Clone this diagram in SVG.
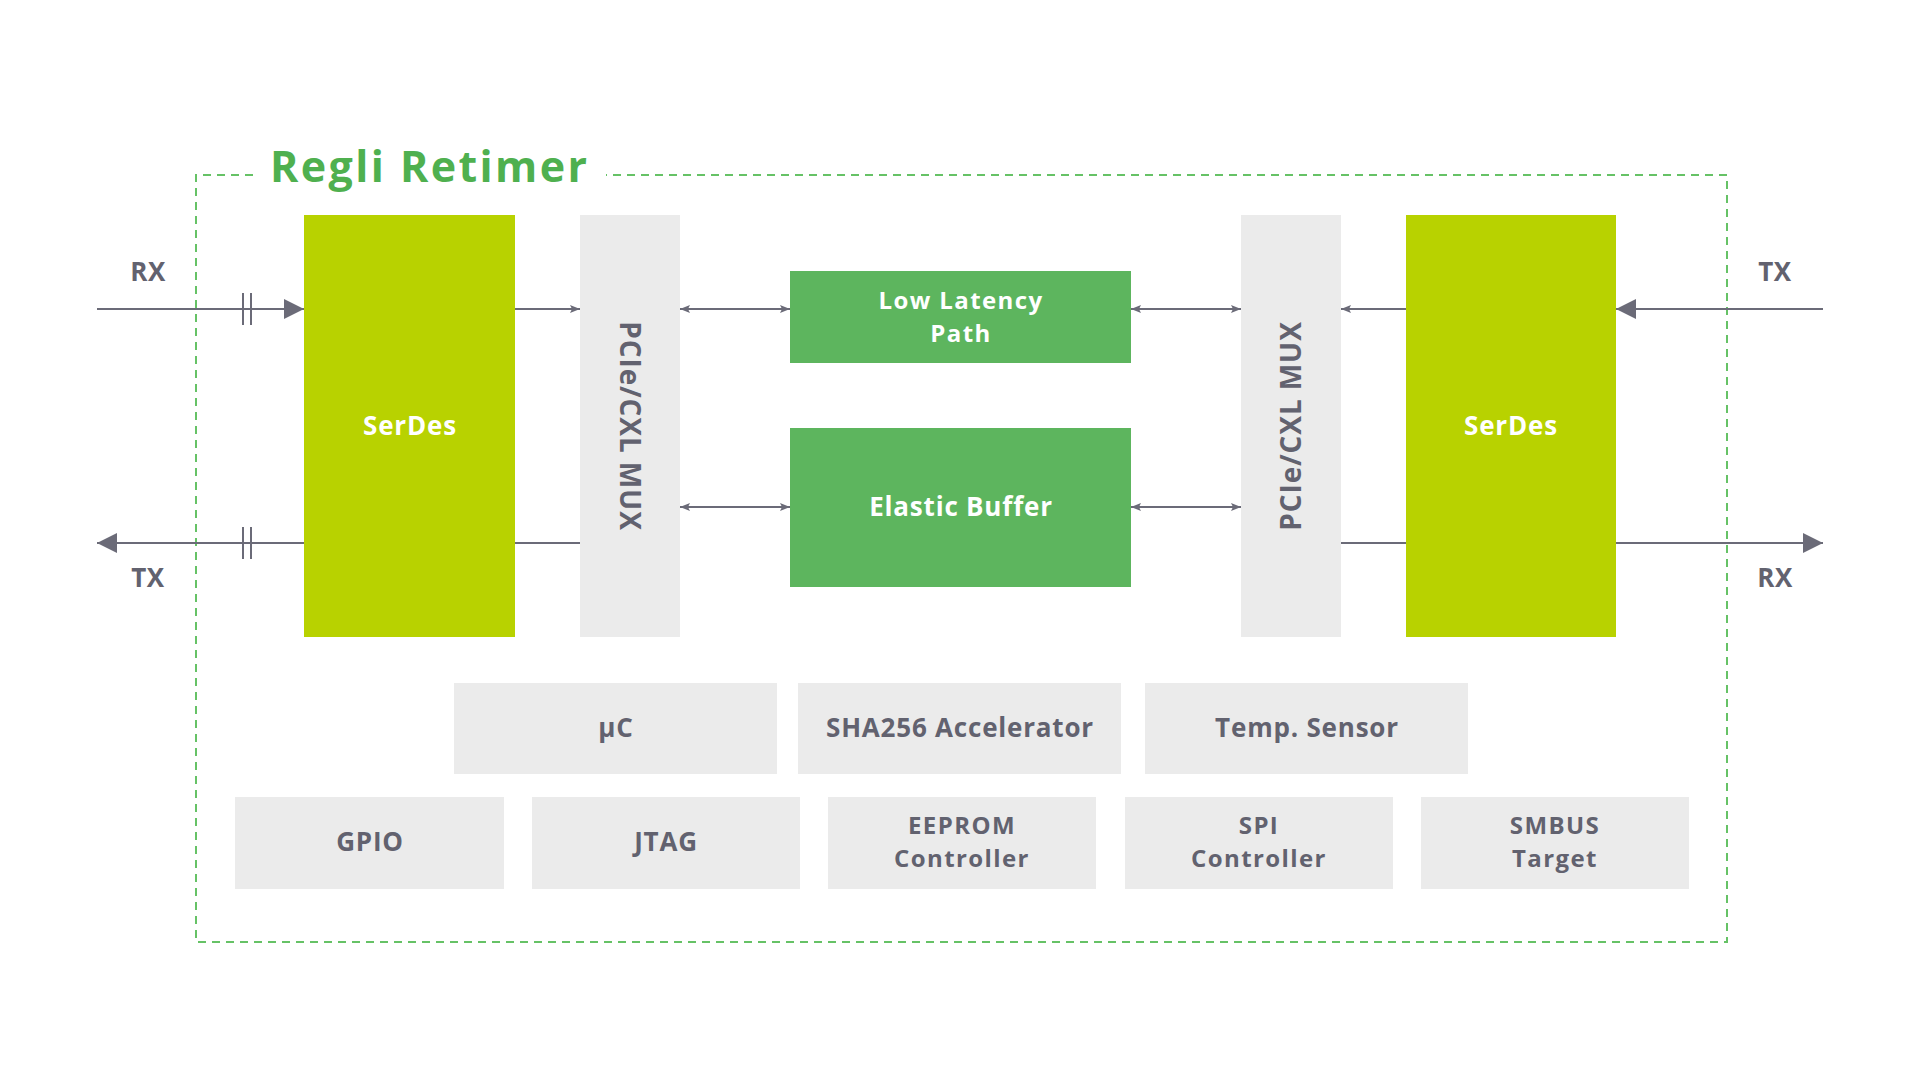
<svg xmlns="http://www.w3.org/2000/svg" width="1920" height="1080" viewBox="0 0 1920 1080">
<defs>
<marker id="sm" viewBox="0 0 10 10" refX="10" refY="5" markerWidth="10" markerHeight="10" markerUnits="userSpaceOnUse" orient="auto-start-reverse"><path d="M0,1 L10,5 L0,9 L2,5 Z" fill="#6b6b78"/></marker>
<marker id="big" viewBox="0 0 20 20" refX="20" refY="10" markerWidth="20" markerHeight="20" markerUnits="userSpaceOnUse" orient="auto-start-reverse"><path d="M0,0 L20,10 L0,20 Z" fill="#6b6b78"/></marker>
<style>
.serdes{fill:#b8d200}
.green{fill:#5db55e}
.grey{fill:#ebebeb}
.wt{fill:#ffffff;font-family:"Open Sans","Liberation Sans",sans-serif;font-weight:700;font-size:26px;letter-spacing:0.8px;text-anchor:middle}
.gt{fill:#62626f;font-family:"Open Sans","Liberation Sans",sans-serif;font-weight:700;font-size:26px;letter-spacing:0.8px;text-anchor:middle}
.two{font-size:24px;letter-spacing:1.4px}
.mux{fill:#62626f;font-family:"Open Sans","Liberation Sans",sans-serif;font-weight:700;font-size:28px;letter-spacing:0.9px;text-anchor:middle}
.lbl{fill:#62626f;font-family:"Open Sans","Liberation Sans",sans-serif;font-weight:700;font-size:26px;letter-spacing:0.5px;text-anchor:middle}
.ln{stroke:#6b6b78;stroke-width:2.2;fill:none}
.bar{stroke:#6b6b78;stroke-width:2;fill:none}
</style>
</defs>
<rect width="1920" height="1080" fill="#ffffff"/>
<g id="frame">
<path d="M253,175 H196 V942 H1727 V175 H606" fill="none" stroke="#66c266" stroke-width="2" stroke-dasharray="8 6"/>
<text x="270" y="182" font-family="'Open Sans','Liberation Sans',sans-serif" font-weight="700" font-size="43" letter-spacing="2.4" fill="#4fb04f">Regli Retimer</text>
</g>
<g id="serdes-left"><rect class="serdes" x="304" y="215" width="211" height="422"/><text class="wt" x="410" y="435">SerDes</text></g>
<g id="mux-left"><rect class="grey" x="580" y="215" width="100" height="422"/><text class="mux" transform="translate(630,426) rotate(90)" x="0" y="10">PCIe/CXL MUX</text></g>
<g id="low-latency"><rect class="green" x="790" y="271" width="341" height="92"/><text class="wt two"><tspan x="961" y="309">Low Latency</tspan><tspan x="961" y="342">Path</tspan></text></g>
<g id="elastic-buffer"><rect class="green" x="790" y="428" width="341" height="159"/><text class="wt" x="961" y="516">Elastic Buffer</text></g>
<g id="mux-right"><rect class="grey" x="1241" y="215" width="100" height="422"/><text class="mux" transform="translate(1291,426) rotate(-90)" x="0" y="10">PCIe/CXL MUX</text></g>
<g id="serdes-right"><rect class="serdes" x="1406" y="215" width="210" height="422"/><text class="wt" x="1511" y="435">SerDes</text></g>
<g id="uc"><rect class="grey" x="454" y="683" width="323" height="91"/><text class="gt" x="616" y="737">µC</text></g>
<g id="sha256"><rect class="grey" x="798" y="683" width="323" height="91"/><text class="gt" x="960" y="737">SHA256 Accelerator</text></g>
<g id="temp"><rect class="grey" x="1145" y="683" width="323" height="91"/><text class="gt" x="1307" y="737">Temp. Sensor</text></g>
<g id="gpio"><rect class="grey" x="235" y="797" width="269" height="92"/><text class="gt" x="370" y="851">GPIO</text></g>
<g id="jtag"><rect class="grey" x="532" y="797" width="268" height="92"/><text class="gt" x="666" y="851">JTAG</text></g>
<g id="eeprom"><rect class="grey" x="828" y="797" width="268" height="92"/><text class="gt two"><tspan x="962" y="834">EEPROM</tspan><tspan x="962" y="867">Controller</tspan></text></g>
<g id="spi"><rect class="grey" x="1125" y="797" width="268" height="92"/><text class="gt two"><tspan x="1259" y="834">SPI</tspan><tspan x="1259" y="867">Controller</tspan></text></g>
<g id="smbus"><rect class="grey" x="1421" y="797" width="268" height="92"/><text class="gt two"><tspan x="1555" y="834">SMBUS</tspan><tspan x="1555" y="867">Target</tspan></text></g>
<g id="io-labels">
<text class="lbl" x="148" y="281">RX</text>
<text class="lbl" x="148" y="587">TX</text>
<text class="lbl" x="1775" y="281">TX</text>
<text class="lbl" x="1775" y="587">RX</text>
</g>
<g id="connectors">
<line class="ln" x1="97" y1="309" x2="304" y2="309" marker-end="url(#big)"/>
<line class="bar" x1="243" y1="293" x2="243" y2="325"/><line class="bar" x1="251" y1="293" x2="251" y2="325"/>
<line class="ln" x1="304" y1="543" x2="97" y2="543" marker-end="url(#big)"/>
<line class="bar" x1="243" y1="527" x2="243" y2="559"/><line class="bar" x1="251" y1="527" x2="251" y2="559"/>
<line class="ln" x1="515" y1="309" x2="580" y2="309" marker-end="url(#sm)"/>
<line class="ln" x1="515" y1="543" x2="580" y2="543"/>
<line class="ln" x1="680" y1="309" x2="790" y2="309" marker-start="url(#sm)" marker-end="url(#sm)"/>
<line class="ln" x1="680" y1="507" x2="790" y2="507" marker-start="url(#sm)" marker-end="url(#sm)"/>
<line class="ln" x1="1131" y1="309" x2="1241" y2="309" marker-start="url(#sm)" marker-end="url(#sm)"/>
<line class="ln" x1="1131" y1="507" x2="1241" y2="507" marker-start="url(#sm)" marker-end="url(#sm)"/>
<line class="ln" x1="1406" y1="309" x2="1341" y2="309" marker-end="url(#sm)"/>
<line class="ln" x1="1341" y1="543" x2="1406" y2="543"/>
<line class="ln" x1="1823" y1="309" x2="1616" y2="309" marker-end="url(#big)"/>
<line class="ln" x1="1616" y1="543" x2="1823" y2="543" marker-end="url(#big)"/>
</g>
</svg>
